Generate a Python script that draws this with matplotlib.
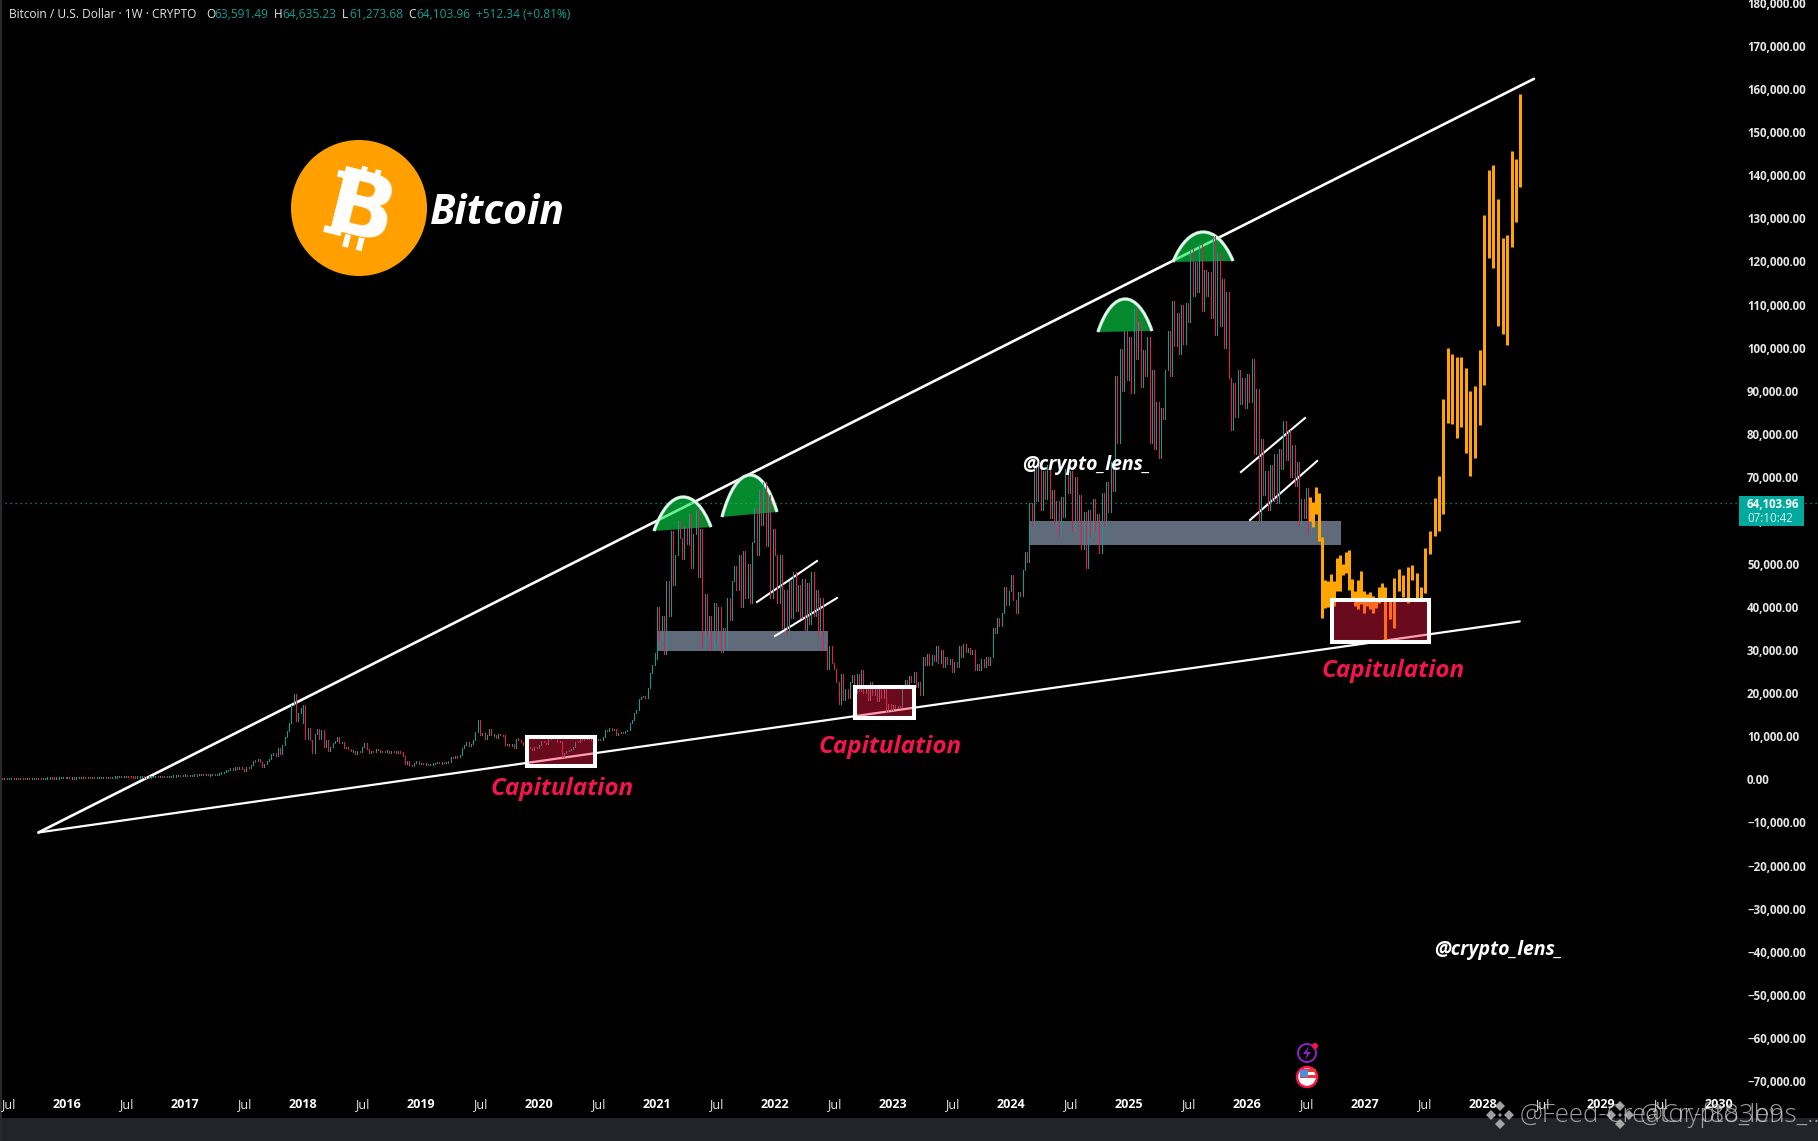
#!/usr/bin/env python3

import math

import matplotlib
matplotlib.use('Agg')
import matplotlib.pyplot as plt
from matplotlib.collections import LineCollection
from matplotlib.patches import Circle, PathPatch, Polygon, Rectangle
from matplotlib.path import Path
from matplotlib.transforms import Affine2D, blended_transform_factory

plt.rcParams['font.family'] = ['Open Sans', 'Noto Sans', 'DejaVu Sans']
plt.rcParams['path.simplify'] = False

# weekly bars per year in thousand USD: (open, close), first week at the year start
start_2015 = 2015.43
weeks_2015 = [(0.22, 0.25), (0.25, 0.24), (0.24, 0.26), (0.26, 0.25), (0.25, 0.27), (0.27, 0.29), (0.29, 0.27), (0.27, 0.29),
              (0.29, 0.28), (0.28, 0.29), (0.29, 0.27), (0.27, 0.23), (0.23, 0.24), (0.24, 0.22), (0.22, 0.23), (0.23, 0.24),
              (0.24, 0.23), (0.23, 0.25), (0.25, 0.24), (0.24, 0.26), (0.26, 0.29), (0.29, 0.33), (0.33, 0.37), (0.37, 0.33),
              (0.33, 0.32), (0.32, 0.36), (0.36, 0.39), (0.39, 0.42), (0.42, 0.44), (0.44, 0.43)]
weeks_2016 = [(0.43, 0.45), (0.45, 0.38), (0.38, 0.40), (0.40, 0.37), (0.37, 0.39), (0.39, 0.41), (0.41, 0.44), (0.44, 0.43),
              (0.43, 0.41), (0.41, 0.42), (0.42, 0.41), (0.41, 0.42), (0.42, 0.41), (0.41, 0.42), (0.42, 0.43), (0.43, 0.45),
              (0.45, 0.46), (0.46, 0.45), (0.45, 0.46), (0.46, 0.44), (0.44, 0.53), (0.53, 0.58), (0.58, 0.61), (0.61, 0.76),
              (0.76, 0.65), (0.65, 0.66), (0.66, 0.68), (0.68, 0.65), (0.65, 0.61), (0.61, 0.59), (0.59, 0.57), (0.57, 0.58),
              (0.58, 0.60), (0.60, 0.61), (0.61, 0.60), (0.60, 0.61), (0.61, 0.60), (0.60, 0.63), (0.63, 0.65), (0.65, 0.71),
              (0.71, 0.70), (0.70, 0.74), (0.74, 0.70), (0.70, 0.74), (0.74, 0.73), (0.73, 0.75), (0.75, 0.77), (0.77, 0.79),
              (0.79, 0.90), (0.90, 0.97), (0.97, 0.96), (0.96, 0.99)]
weeks_2017 = [(0.96, 1.13), (1.13, 0.80), (0.80, 0.92), (0.92, 1.02), (1.02, 1.05), (1.05, 1.01), (1.01, 1.18), (1.18, 1.26),
              (1.26, 0.98), (0.98, 1.24), (1.24, 0.95), (0.95, 1.12), (1.12, 1.21), (1.21, 1.18), (1.18, 1.22), (1.22, 1.35),
              (1.35, 1.58), (1.58, 1.80), (1.80, 2.10), (2.10, 2.20), (2.20, 2.75), (2.75, 2.30), (2.30, 2.98), (2.98, 2.50),
              (2.50, 2.95), (2.95, 2.45), (2.45, 1.92), (1.92, 2.80), (2.80, 2.70), (2.70, 3.45), (3.45, 4.30), (4.30, 4.20),
              (4.20, 4.70), (4.70, 4.10), (4.10, 3.00), (3.00, 3.70), (3.70, 4.40), (4.40, 4.80), (4.80, 5.80), (5.80, 6.10),
              (6.10, 5.50), (5.50, 7.40), (7.40, 5.80), (5.80, 8.00), (8.00, 9.80), (9.80, 11.30), (11.30, 13.00), (13.00, 17.20),
              (17.20, 19.70), (19.70, 13.50), (13.50, 15.50), (15.50, 16.50)]
weeks_2018 = [(13.00, 17.20), (17.20, 9.50), (9.50, 12.00), (12.00, 9.20), (9.20, 6.20), (6.20, 10.50), (10.50, 11.70), (11.70, 9.50),
              (9.50, 11.50), (11.50, 7.60), (7.60, 9.20), (9.20, 6.60), (6.60, 7.50), (7.50, 8.50), (8.50, 9.00), (9.00, 9.80),
              (9.80, 8.40), (8.40, 8.80), (8.80, 7.20), (7.20, 7.60), (7.60, 7.10), (7.10, 6.50), (6.50, 6.70), (6.70, 5.80),
              (5.80, 6.60), (6.60, 6.30), (6.30, 7.50), (7.50, 8.40), (8.40, 7.00), (7.00, 6.10), (6.10, 6.60), (6.60, 6.40),
              (6.40, 7.10), (7.10, 6.80), (6.80, 6.40), (6.40, 6.60), (6.60, 6.50), (6.50, 6.70), (6.70, 6.25), (6.25, 6.50),
              (6.50, 6.40), (6.40, 6.30), (6.30, 6.45), (6.45, 6.35), (6.35, 5.50), (5.50, 3.70), (3.70, 4.20), (4.20, 3.40),
              (3.40, 3.20), (3.20, 3.80), (3.80, 4.20), (4.20, 3.60)]
weeks_2019 = [(3.60, 3.90), (3.90, 3.50), (3.50, 3.60), (3.60, 3.40), (3.40, 3.45), (3.45, 3.65), (3.65, 3.85), (3.85, 4.15),
              (4.15, 3.75), (3.75, 3.95), (3.95, 3.85), (3.85, 4.05), (4.05, 4.00), (4.00, 5.20), (5.20, 5.10), (5.10, 5.30),
              (5.30, 5.20), (5.20, 5.70), (5.70, 7.20), (7.20, 8.00), (8.00, 8.70), (8.70, 7.70), (7.70, 8.30), (8.30, 9.20),
              (9.20, 11.00), (11.00, 13.80), (13.80, 10.30), (10.30, 10.80), (10.80, 9.50), (9.50, 10.40), (10.40, 11.80), (11.80, 10.30),
              (10.30, 10.40), (10.40, 9.60), (9.60, 10.50), (10.50, 10.30), (10.30, 10.20), (10.20, 8.00), (8.00, 8.30), (8.30, 7.80),
              (7.80, 8.30), (8.30, 7.40), (7.40, 9.50), (9.50, 9.20), (9.20, 8.70), (8.70, 8.00), (8.00, 7.30), (7.30, 7.50),
              (7.50, 7.30), (7.30, 6.90), (6.90, 7.50), (7.50, 7.20)]
weeks_2020 = [(7.20, 8.10), (8.10, 8.90), (8.90, 8.60), (8.60, 8.30), (8.30, 9.30), (9.30, 9.80), (9.80, 10.30), (10.30, 9.70),
              (9.70, 8.60), (8.60, 8.90), (8.90, 5.20), (5.20, 6.20), (6.20, 6.60), (6.60, 6.90), (6.90, 7.10), (7.10, 7.50),
              (7.50, 8.80), (8.80, 8.70), (8.70, 9.70), (9.70, 9.20), (9.20, 9.50), (9.50, 9.70), (9.70, 9.40), (9.40, 9.30),
              (9.30, 9.10), (9.10, 9.25), (9.25, 9.30), (9.30, 9.20), (9.20, 9.90), (9.90, 11.50), (11.50, 11.30), (11.30, 11.90),
              (11.90, 11.40), (11.40, 11.70), (11.70, 10.20), (10.20, 10.70), (10.70, 11.00), (11.00, 10.70), (10.70, 11.30), (11.30, 11.50),
              (11.50, 13.00), (13.00, 13.70), (13.70, 15.40), (15.40, 16.00), (16.00, 18.70), (18.70, 19.20), (19.20, 19.40), (19.40, 18.80),
              (18.80, 21.30), (21.30, 24.60), (24.60, 26.50), (26.50, 29.30)]
weeks_2021 = [(28.00, 40.00), (40.00, 32.00), (32.00, 38.00), (38.00, 29.00), (29.00, 46.00), (46.00, 38.00), (38.00, 57.50), (57.50, 45.00),
              (45.00, 52.00), (52.00, 60.00), (60.00, 56.00), (56.00, 51.00), (51.00, 58.50), (58.50, 54.50), (54.50, 61.50), (61.50, 49.00),
              (49.00, 57.00), (57.00, 62.50), (62.50, 47.00), (47.00, 58.00), (58.00, 30.50), (30.50, 43.00), (43.00, 33.50), (33.50, 38.00),
              (38.00, 30.00), (30.00, 41.00), (41.00, 32.00), (32.00, 40.00), (40.00, 29.50), (29.50, 35.00), (35.00, 30.50), (30.50, 42.00),
              (42.00, 37.00), (37.00, 46.00), (46.00, 49.50), (49.50, 44.00), (44.00, 52.00), (52.00, 40.00), (40.00, 53.00), (53.00, 42.00),
              (42.00, 50.00), (50.00, 41.00), (41.00, 55.00), (55.00, 63.00), (63.00, 52.00), (52.00, 67.00), (67.00, 59.00), (59.00, 69.00),
              (69.00, 54.00), (54.00, 66.00), (66.00, 42.00), (42.00, 58.00)]
weeks_2022 = [(58.00, 52.00), (52.00, 41.00), (41.00, 52.00), (52.00, 35.00), (35.00, 44.00), (44.00, 33.50), (33.50, 46.00), (46.00, 37.50),
              (37.50, 48.00), (48.00, 39.00), (39.00, 45.00), (45.00, 37.50), (37.50, 46.50), (46.50, 34.50), (34.50, 45.50), (45.50, 36.00),
              (36.00, 48.00), (48.00, 38.00), (38.00, 44.00), (44.00, 33.50), (33.50, 42.00), (42.00, 30.00), (30.00, 31.50), (31.50, 25.50),
              (25.50, 31.00), (31.00, 27.00), (27.00, 25.50), (25.50, 22.50), (22.50, 17.60), (17.60, 24.50), (24.50, 18.50), (18.50, 21.00),
              (21.00, 18.90), (18.90, 22.50), (22.50, 24.20), (24.20, 20.00), (20.00, 24.50), (24.50, 20.50), (20.50, 25.30), (25.30, 20.00),
              (20.00, 21.80), (21.80, 18.50), (18.50, 22.70), (22.70, 19.50), (19.50, 22.00), (22.00, 18.20), (18.20, 21.00), (21.00, 18.80),
              (18.80, 21.40), (21.40, 15.60), (15.60, 17.50), (17.50, 16.00)]
weeks_2023 = [(16.00, 17.30), (17.30, 16.60), (16.60, 17.00), (17.00, 16.80), (16.80, 21.20), (21.20, 23.00), (23.00, 21.50), (21.50, 23.90),
              (23.90, 22.50), (22.50, 25.00), (25.00, 21.50), (21.50, 22.50), (22.50, 19.60), (19.60, 28.50), (28.50, 26.50), (26.50, 29.00),
              (29.00, 26.60), (26.60, 28.80), (28.80, 27.50), (27.50, 31.00), (31.00, 27.00), (27.00, 30.00), (30.00, 26.00), (26.00, 28.50),
              (28.50, 26.80), (26.80, 28.00), (28.00, 25.00), (25.00, 27.30), (27.30, 26.00), (26.00, 31.00), (31.00, 28.50), (28.50, 31.50),
              (31.50, 29.50), (29.50, 30.50), (30.50, 29.00), (29.00, 30.10), (30.10, 25.40), (25.40, 26.80), (26.80, 25.40), (25.40, 28.00),
              (28.00, 26.00), (26.00, 28.50), (28.50, 26.50), (26.50, 28.50), (28.50, 35.00), (35.00, 34.00), (34.00, 37.50), (37.50, 35.50),
              (35.50, 38.50), (38.50, 44.50), (44.50, 40.50), (40.50, 43.70)]
weeks_2024 = [(43.70, 47.50), (47.50, 41.50), (41.50, 38.50), (38.50, 43.50), (43.50, 42.50), (42.50, 48.50), (48.50, 52.80), (52.80, 50.50),
              (50.50, 64.00), (64.00, 59.00), (59.00, 72.50), (72.50, 64.50), (64.50, 73.80), (73.80, 62.50), (62.50, 71.50), (71.50, 65.00),
              (65.00, 72.80), (72.80, 60.50), (60.50, 67.00), (67.00, 59.50), (59.50, 64.50), (64.50, 56.50), (56.50, 65.50), (65.50, 60.80),
              (60.80, 71.90), (71.90, 66.50), (66.50, 71.50), (71.50, 57.50), (57.50, 70.00), (70.00, 60.00), (60.00, 66.00), (66.00, 53.50),
              (53.50, 62.00), (62.00, 49.00), (49.00, 62.50), (62.50, 56.50), (56.50, 65.00), (65.00, 57.50), (57.50, 61.50), (61.50, 52.50),
              (52.50, 66.50), (66.50, 59.00), (59.00, 69.00), (69.00, 62.00), (62.00, 73.60), (73.60, 66.80), (66.80, 93.50), (93.50, 78.00),
              (78.00, 99.80), (99.80, 90.00), (90.00, 104.00), (104.00, 92.50)]
weeks_2025 = [(92.50, 102.50), (102.50, 89.50), (89.50, 109.00), (109.00, 97.50), (97.50, 106.00), (106.00, 91.00), (91.00, 99.50), (99.50, 93.50),
              (93.50, 102.50), (102.50, 78.00), (78.00, 95.00), (95.00, 76.50), (76.50, 87.50), (87.50, 74.50), (74.50, 86.00), (86.00, 83.50),
              (83.50, 95.00), (95.00, 104.00), (104.00, 93.50), (93.50, 111.00), (111.00, 100.50), (100.50, 108.00), (108.00, 98.50), (98.50, 110.00),
              (110.00, 101.00), (101.00, 110.50), (110.50, 106.00), (106.00, 123.00), (123.00, 112.00), (112.00, 120.00), (120.00, 113.00), (113.00, 124.00),
              (124.00, 108.50), (108.50, 118.00), (118.00, 112.00), (112.00, 117.50), (117.50, 107.00), (107.00, 126.00), (126.00, 103.00), (103.00, 122.00),
              (122.00, 105.00), (105.00, 116.00), (116.00, 100.00), (100.00, 113.00), (113.00, 93.00), (93.00, 81.00), (81.00, 92.00), (92.00, 84.00),
              (84.00, 95.00), (95.00, 87.00), (87.00, 93.00), (93.00, 86.00)]
weeks_2026 = [(86.00, 94.00), (94.00, 87.50), (87.50, 97.50), (97.50, 75.50), (75.50, 90.50), (90.50, 60.00), (60.00, 79.00), (79.00, 66.00),
              (66.00, 71.50), (71.50, 62.50), (62.50, 73.00), (73.00, 64.50), (64.50, 75.50), (75.50, 64.00), (64.00, 76.50), (76.50, 72.00),
              (72.00, 83.00), (83.00, 74.00), (74.00, 81.00), (81.00, 70.00), (70.00, 77.50), (77.50, 68.00), (68.00, 73.50), (73.50, 59.00),
              (59.00, 65.00), (65.00, 60.50), (60.50, 67.50), (67.50, 57.00), (57.00, 63.00), (63.00, 64.10)]
all_weeks = [weeks_2015, weeks_2016, weeks_2017, weeks_2018, weeks_2019, weeks_2020,
             weeks_2021, weeks_2022, weeks_2023, weeks_2024, weeks_2025, weeks_2026]
week_starts = [start_2015, 2016, 2017, 2018, 2019, 2020, 2021, 2022, 2023, 2024, 2025, 2026]

# projected path, in years and thousand USD
proj_year = [2026.534, 2026.560, 2026.586, 2026.612, 2026.635, 2026.659, 2026.688, 2026.714, 2026.737, 2026.763, 2026.789, 2026.816,
             2026.839, 2026.865, 2026.891, 2026.917, 2026.943, 2026.967, 2026.993, 2027.019, 2027.042, 2027.068, 2027.095, 2027.121,
             2027.144, 2027.170, 2027.208, 2027.246, 2027.284, 2027.321, 2027.359, 2027.400, 2027.435, 2027.472, 2027.510, 2027.551,
             2027.589, 2027.626, 2027.661, 2027.705, 2027.737, 2027.780, 2027.815, 2027.856, 2027.891, 2027.932, 2027.975, 2028.010,
             2028.051, 2028.086, 2028.126, 2028.164, 2028.202, 2028.240, 2028.280, 2028.315]
proj_low = [59.8, 58.6, 61.6, 55.2, 37.5, 39.7, 40.0, 39.7, 40.1, 43.8, 43.8, 47.4,
            47.9, 44.0, 41.5, 40.1, 39.4, 40.6, 38.7, 40.1, 39.5, 38.7, 39.7, 41.0,
            41.9, 32.3, 37.1, 35.0, 43.8, 42.2, 41.0, 46.3, 41.3, 41.8, 43.3, 52.3,
            56.5, 57.6, 61.6, 82.7, 82.3, 79.2, 81.6, 75.6, 70.3, 74.5, 82.1, 91.4,
            120.8, 118.5, 105.0, 103.2, 100.6, 123.3, 129.1, 137.3]
proj_high = [65.5, 64.4, 67.8, 66.4, 56.3, 46.3, 46.0, 47.6, 46.0, 51.3, 52.0, 50.0,
             52.8, 53.2, 46.5, 43.8, 46.3, 48.4, 43.8, 43.1, 43.5, 42.6, 41.9, 44.7,
             45.6, 44.7, 41.5, 46.7, 48.8, 47.4, 49.3, 49.7, 47.9, 44.5, 53.6, 57.5,
             65.3, 70.4, 88.2, 100.0, 98.6, 97.8, 97.8, 95.4, 90.1, 91.2, 99.5, 130.8,
             141.2, 142.4, 134.6, 125.4, 126.3, 145.6, 143.9, 158.8]

# drawn objects, in years and USD
trend_upper_x = [2015.756, 2028.43]
trend_upper_y = [-12280, 162380]
trend_lower_x = [2015.756, 2028.31]
trend_lower_y = [-12280, 36640]
channels = [([2021.846, 2022.354], [41135, 50637]), ([2021.998, 2022.523], [33255, 42062]),
            ([2025.947, 2026.490], [71263, 83778]), ([2026.024, 2026.592], [60139, 73812])]
zones = [(2020.998, 2022.448, 29780, 34414), (2024.151, 2026.795, 54345, 59907)]
boxes = [(2019.897, 2020.473, 3129, 9849), (2022.676, 2023.176, 14253, 21437), (2026.719, 2027.541, 31866, 41599)]
domes = [((2020.973, 57590), (2021.193, 65470), (2021.456, 58517)),
         ((2021.549, 60834), (2021.753, 70568), (2022.015, 61993)),
         ((2024.735, 103708), (2024.956, 111356), (2025.193, 103940)),
         ((2025.371, 119930), (2025.608, 126883), (2025.880, 120162))]
capitulations = [(2020.19, 500), (2022.97, 10300), (2027.235, 28000)]
handles = [(2024.64, 72800), (2028.126, -39500)]

price_ticks = list(range(-70000, 190000, 10000))
year_ticks = list(range(2016, 2031))
last_price = 64103.96

TEAL = '#0BA192'
RED = '#F8134C'
ORANGE = '#FFA500'
WIDTH, HEIGHT = 1818, 1141
PX_YEAR = 118.0
PX_10K = 43.15
MIN_BAR = 320  # USD, about 1.4 px, so the flat early weeks still show

fig = plt.figure(figsize=(WIDTH / 100, HEIGHT / 100), dpi=100, facecolor='black')
ax = fig.add_axes([0, 0, 1, 1], facecolor='black')
ax.set_xlim(2016 - 67.2 / PX_YEAR, 2016 + (WIDTH - 67.2) / PX_YEAR)
ax.set_ylim(-(HEIGHT - 779.5) / PX_10K * 10000, 779.5 / PX_10K * 10000)
ax.axis('off')

# top-down pixel positions, for the overlay furniture only
px = Affine2D().scale(1, -1).translate(0, HEIGHT)
px_x = blended_transform_factory(px, ax.transData)
px_y = blended_transform_factory(ax.transData, px)

for x0, x1, y0, y1 in zones:
    ax.add_patch(Rectangle((x0, y0), x1 - x0, y1 - y0, fc='#5F6B7A', ec='none', zorder=1))

ax.plot(trend_upper_x, trend_upper_y, color='white', lw=1.9, zorder=2, solid_capstyle='round')
ax.plot(trend_lower_x, trend_lower_y, color='white', lw=1.6, zorder=2, solid_capstyle='round')
for cx, cy in channels:
    ax.plot(cx, cy, color='white', lw=1.5, zorder=2)

ax.axhline(last_price, color=TEAL, lw=0.9, ls=(0, (1, 3)), zorder=2)

for left, peak, right in domes:
    w = right[0] - left[0]
    base = (left[1] + right[1]) / 2
    top = base + (peak[1] - base) * 4 / 3
    arc = [left, (left[0] + w * 0.27, top), (right[0] - w * 0.27, top), right]
    fill = Path(arc + [left], [Path.MOVETO, Path.CURVE4, Path.CURVE4, Path.CURVE4, Path.CLOSEPOLY])
    ax.add_patch(PathPatch(fill, fc='#08E64B', alpha=0.6, ec='none', zorder=3))
    edge = Path(arc, [Path.MOVETO, Path.CURVE4, Path.CURVE4, Path.CURVE4])
    ax.add_patch(PathPatch(edge, fc='none', ec='#A8EBC4', lw=2.4, zorder=3))
    ax.add_patch(PathPatch(edge, fc='none', ec='white', lw=1.1, zorder=3))

segs, cols = [], []
for start, weeks in zip(week_starts, all_weeks):
    for i, (o, c) in enumerate(weeks):
        x = start + i * 7 / 365.25
        lo, hi = min(o, c) * 1000, max(o, c) * 1000
        if hi - lo < MIN_BAR:
            mid = (lo + hi) / 2
            lo, hi = mid - MIN_BAR / 2, mid + MIN_BAR / 2
        segs.append([(x, lo), (x, hi)])
        cols.append(TEAL if c >= o else RED)
ax.add_collection(LineCollection(segs, colors=cols, linewidths=0.72, capstyle='projecting', antialiaseds=False, zorder=4))
ax.vlines(proj_year, [v * 1000 for v in proj_low], [v * 1000 for v in proj_high], color=ORANGE, lw=2.2, zorder=4)

for x0, x1, y0, y1 in boxes:
    ax.add_patch(Rectangle((x0, y0), x1 - x0, y1 - y0, fc=(1, 0.1, 0.28, 0.42), ec='none', zorder=5))
    ax.add_patch(Rectangle((x0, y0), x1 - x0, y1 - y0, fc='none', ec='white', lw=2.9, zorder=6, joinstyle='miter'))

for x, y in capitulations:
    ax.text(x, y, 'Capitulation', color='#F5144C', fontsize=17.5, fontweight='bold', style='italic',
            ha='center', va='top', zorder=7)
for x, y in handles:
    ax.text(x, y, '@crypto_lens_', color='white', fontsize=14, fontweight='bold', style='italic',
            ha='center', va='center', zorder=7)

# bottom band and left edge
ax.add_patch(Rectangle((0, 1118), WIDTH, 23, transform=px, fc='#23232A', ec='none', zorder=8))
ax.add_patch(Rectangle((0, 0), 1.5, HEIGHT, transform=px, fc='#2A2A2E', ec='none', zorder=8))

# price axis labels, nudged a little down to sit like the reference
for v in price_ticks:
    s = f'{abs(v):,.2f}'
    if v < 0:
        s = '\u2212' + s
    ax.text(1747, v - 300, s, transform=px_x, color='#E6E6E6', fontsize=8.3, fontweight='bold',
            ha='left', va='center', zorder=9, clip_on=False)

# time axis labels
for yr in year_ticks:
    ax.text(yr, 1105, str(yr), transform=px_y, color='white', fontsize=9, fontweight='bold',
            ha='center', va='center', zorder=9)
    if yr < 2030:
        ax.text(yr + 0.5, 1105, 'Jul', transform=px_y, color='#E6E6E6', fontsize=9,
                ha='center', va='center', zorder=9)
ax.text(2015.5, 1105, 'Jul', transform=px_y, color='#E6E6E6', fontsize=9, ha='center', va='center', zorder=9)

# last price tag
ax.add_patch(Rectangle((1739, 496), 65, 30, transform=px, fc='#00A99D', ec='none', zorder=10))
ax.text(1747, 504, f'{last_price:,.2f}', transform=px, color='white', fontsize=8.3, fontweight='bold', va='center', zorder=11)
ax.text(1747, 518, '07:10:42', transform=px, color='#D8F5F0', fontsize=8.3, va='center', zorder=11)

# header
header = [(9, 'Bitcoin / U.S. Dollar \u00b7 1W \u00b7 CRYPTO', '#E6E6E6'), (206, 'O', '#E6E6E6'), (214, '63,591.49', TEAL),
          (274, 'H', '#E6E6E6'), (282, '64,635.23', TEAL), (342, 'L', '#E6E6E6'), (349, '61,273.68', TEAL),
          (408, 'C', '#E6E6E6'), (416, '64,103.96', TEAL), (476, '+512.34 (+0.81%)', TEAL)]
for x, s, c in header:
    ax.text(x, 15, s, transform=px, color=c, fontsize=8.6, va='center', zorder=10)

# logo: B with the four strokes, tilted clockwise
ax.add_patch(Circle((359, 208), 68, transform=px, fc='#FFA000', ec='none', zorder=7))
tilt = math.radians(14)
ux, uy = math.sin(tilt), -math.cos(tilt)
rx, ry = math.cos(tilt), math.sin(tilt)
ax.text(361, 213, 'B', transform=px, color='white', fontsize=64, fontweight='bold', rotation=-14,
        rotation_mode='anchor', ha='center', va='center', family='DejaVu Sans', zorder=8)
strokes = [(-7, 28, 41), (7, 28, 41), (-7, -42, -29), (7, -42, -29)]
for off, a, b in strokes:
    p0 = (362 + off * rx + a * ux, 208 + off * ry + a * uy)
    p1 = (362 + off * rx + b * ux, 208 + off * ry + b * uy)
    ax.plot([p0[0], p1[0]], [p0[1], p1[1]], transform=px, color='white', lw=4.2, solid_capstyle='butt', zorder=8)
for side in (28, -29):
    p0 = (362 - 32 * rx + side * ux, 208 - 32 * ry + side * uy)
    p1 = (362 - 14 * rx + side * ux, 208 - 14 * ry + side * uy)
    ax.plot([p0[0], p1[0]], [p0[1], p1[1]], transform=px, color='white', lw=5, solid_capstyle='butt', zorder=8)
ax.text(430, 214, 'Bitcoin', transform=px, color='white', fontsize=29.5, fontweight='bold', style='italic',
        ha='left', va='center', zorder=8)

# event icons
ax.add_patch(Circle((1307, 1053), 9, transform=px, fc='black', ec='#8E24C8', lw=1.4, zorder=9))
ax.add_patch(Polygon([(1309, 1046), (1303, 1054), (1307, 1054), (1305, 1060), (1311, 1052), (1307, 1052)],
                     transform=px, fc='#8E24C8', ec='none', zorder=10))
ax.add_patch(Circle((1315, 1046), 3, transform=px, fc='#F8134C', ec='none', zorder=10))
ax.add_patch(Circle((1307, 1077), 10, transform=px, fc='white', ec='#F8134C', lw=1.8, zorder=9))
ax.add_patch(Rectangle((1300, 1069), 16, 3, transform=px, fc='#E53935', ec='none', zorder=10))
ax.add_patch(Rectangle((1300, 1075), 16, 3, transform=px, fc='#E53935', ec='none', zorder=10))
ax.add_patch(Rectangle((1300, 1070), 8, 7, transform=px, fc='#4A90E2', ec='none', zorder=11))

# watermark
for cx, tx, s in [(1500, 1520, '@Feed-Creator-f883b9'), (1620, 1640, '@Crypto_lens_..')]:
    for dx, dy, r in [(0, -9, 5), (-9, 0, 5), (9, 0, 5), (0, 9, 5), (0, 0, 2)]:
        ax.add_patch(Polygon([(cx + dx - r, 1115 + dy), (cx + dx, 1115 + dy - r), (cx + dx + r, 1115 + dy), (cx + dx, 1115 + dy + r)],
                             transform=px, fc='#C8C8C8', alpha=0.8, ec='none', zorder=12))
    ax.text(tx, 1116, s, transform=px, color='#D0D0D0', alpha=0.75, fontsize=18.5, fontweight='light', va='center', zorder=12)

fig.savefig('out.png', dpi=100, facecolor='black')
